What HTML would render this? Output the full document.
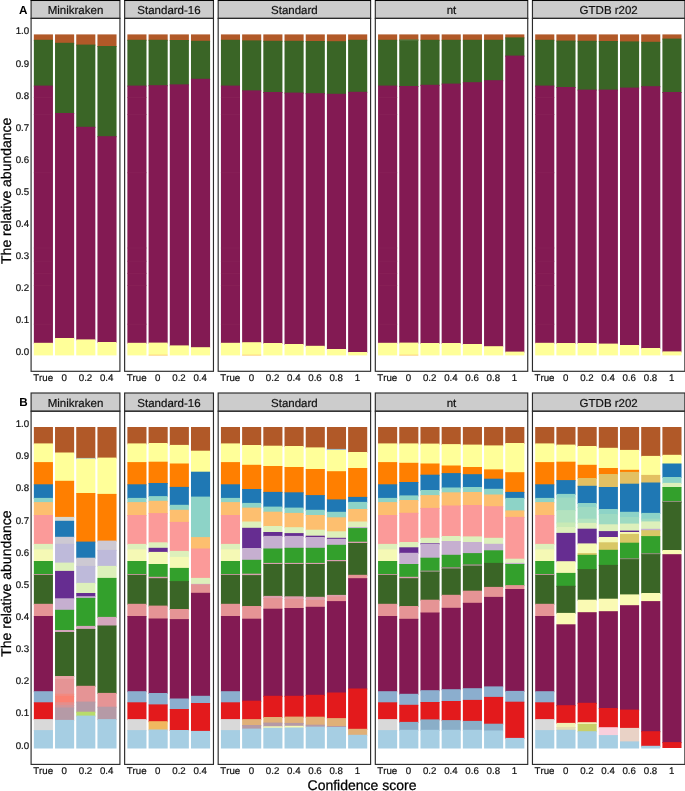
<!DOCTYPE html>
<html><head><meta charset="utf-8"><title>Relative abundance</title>
<style>
html,body{margin:0;padding:0;background:#fff}
svg{display:block}
text{font-family:"Liberation Sans",Arial,sans-serif;fill:#111;stroke:#111;stroke-width:0.2px;text-rendering:geometricPrecision;font-kerning:none}
.t{font-size:9.7px}
.s{font-size:11.5px;text-anchor:middle}
.x{text-anchor:middle}
.y{text-anchor:end}
.ti{font-size:14px;text-anchor:middle;fill:#000;stroke:#000;stroke-width:0.25px}
.l{font-size:11.7px;font-weight:bold;fill:#000;stroke:none}
</style></head>
<body>
<svg width="685" height="791" viewBox="0 0 685 791">
<rect width="685" height="791" fill="#fff"/>
<rect x="31.09" y="0.45" width="88.83" height="17.9" fill="#CCCCCC" stroke="#2b2b2b" stroke-width="1.15"/>
<text class="s" x="75.5" y="13.9">Minikraken</text>
<g>
<rect x="33.84" y="34.4" width="19.1" height="6.4" fill="#B15928"/>
<rect x="33.84" y="39.8" width="19.1" height="46.8" fill="#3A6526"/>
<rect x="33.84" y="85.6" width="19.1" height="258.2" fill="#831A53"/>
<rect x="33.84" y="342.8" width="19.1" height="12.6" fill="#FFFF99"/>
<rect x="33.84" y="97.31" width="19.1" height="0.7" fill="#892358"/>
<rect x="33.84" y="114.00" width="19.1" height="0.7" fill="#892358"/>
<rect x="33.84" y="172.42" width="19.1" height="0.7" fill="#892358"/>
<rect x="33.84" y="247.65" width="19.1" height="0.7" fill="#892358"/>
<rect x="33.84" y="260.85" width="19.1" height="0.7" fill="#892358"/>
<rect x="33.84" y="272.95" width="19.1" height="0.7" fill="#892358"/>
<rect x="33.84" y="285.15" width="19.1" height="0.7" fill="#892358"/>
<rect x="33.84" y="323.80" width="19.1" height="0.7" fill="#892358"/>
</g>
<g>
<rect x="55.04" y="34.4" width="19.1" height="9.4" fill="#B15928"/>
<rect x="55.04" y="42.8" width="19.1" height="71.2" fill="#3A6526"/>
<rect x="55.04" y="113.0" width="19.1" height="226.0" fill="#831A53"/>
<rect x="55.04" y="338.0" width="19.1" height="17.4" fill="#FFFF99"/>
</g>
<g>
<rect x="76.24" y="34.4" width="19.1" height="11.2" fill="#B15928"/>
<rect x="76.24" y="44.6" width="19.1" height="83.2" fill="#3A6526"/>
<rect x="76.24" y="126.8" width="19.1" height="213.6" fill="#831A53"/>
<rect x="76.24" y="339.4" width="19.1" height="16.0" fill="#FFFF99"/>
</g>
<g>
<rect x="97.44" y="34.4" width="19.1" height="12.6" fill="#B15928"/>
<rect x="97.44" y="46.0" width="19.1" height="91.2" fill="#3A6526"/>
<rect x="97.44" y="136.2" width="19.1" height="206.8" fill="#831A53"/>
<rect x="97.44" y="342.0" width="19.1" height="13.4" fill="#FFFF99"/>
</g>
<rect x="31.09" y="18.4" width="88.83" height="352.9" fill="none" stroke="#2b2b2b" stroke-width="1.15"/>
<text class="t x" x="43.1" y="380.9">True</text>
<text class="t x" x="64.3" y="380.9">0</text>
<text class="t x" x="85.5" y="380.9">0.2</text>
<text class="t x" x="106.7" y="380.9">0.4</text>
<rect x="124.63" y="0.45" width="88.83" height="17.9" fill="#CCCCCC" stroke="#2b2b2b" stroke-width="1.15"/>
<text class="s" x="169.0" y="13.9">Standard-16</text>
<g>
<rect x="127.38" y="34.4" width="19.1" height="6.4" fill="#B15928"/>
<rect x="127.38" y="39.8" width="19.1" height="46.8" fill="#3A6526"/>
<rect x="127.38" y="85.6" width="19.1" height="258.2" fill="#831A53"/>
<rect x="127.38" y="342.8" width="19.1" height="12.6" fill="#FFFF99"/>
<rect x="127.38" y="97.31" width="19.1" height="0.7" fill="#892358"/>
<rect x="127.38" y="114.00" width="19.1" height="0.7" fill="#892358"/>
<rect x="127.38" y="172.42" width="19.1" height="0.7" fill="#892358"/>
<rect x="127.38" y="247.65" width="19.1" height="0.7" fill="#892358"/>
<rect x="127.38" y="260.85" width="19.1" height="0.7" fill="#892358"/>
<rect x="127.38" y="272.95" width="19.1" height="0.7" fill="#892358"/>
<rect x="127.38" y="285.15" width="19.1" height="0.7" fill="#892358"/>
<rect x="127.38" y="323.80" width="19.1" height="0.7" fill="#892358"/>
</g>
<g>
<rect x="148.58" y="34.4" width="19.1" height="6.4" fill="#B15928"/>
<rect x="148.58" y="39.8" width="19.1" height="46.4" fill="#3A6526"/>
<rect x="148.58" y="85.2" width="19.1" height="258.4" fill="#831A53"/>
<rect x="148.58" y="342.6" width="19.1" height="12.8" fill="#FFFF99"/>
<rect x="148.58" y="354.80" width="19.1" height="0.6" fill="#FDB462"/>
</g>
<g>
<rect x="169.78" y="34.4" width="19.1" height="6.6" fill="#B15928"/>
<rect x="169.78" y="40.0" width="19.1" height="45.4" fill="#3A6526"/>
<rect x="169.78" y="84.4" width="19.1" height="262.0" fill="#831A53"/>
<rect x="169.78" y="345.4" width="19.1" height="10.0" fill="#FFFF99"/>
</g>
<g>
<rect x="190.98" y="34.4" width="19.1" height="7.4" fill="#B15928"/>
<rect x="190.98" y="40.8" width="19.1" height="39.0" fill="#3A6526"/>
<rect x="190.98" y="78.8" width="19.1" height="269.4" fill="#831A53"/>
<rect x="190.98" y="347.2" width="19.1" height="8.2" fill="#FFFF99"/>
</g>
<rect x="124.63" y="18.4" width="88.83" height="352.9" fill="none" stroke="#2b2b2b" stroke-width="1.15"/>
<text class="t x" x="136.6" y="380.9">True</text>
<text class="t x" x="157.8" y="380.9">0</text>
<text class="t x" x="179.0" y="380.9">0.2</text>
<text class="t x" x="200.2" y="380.9">0.4</text>
<rect x="218.17" y="0.45" width="152.43" height="17.9" fill="#CCCCCC" stroke="#2b2b2b" stroke-width="1.15"/>
<text class="s" x="294.4" y="13.9">Standard</text>
<g>
<rect x="220.92" y="34.4" width="19.1" height="6.4" fill="#B15928"/>
<rect x="220.92" y="39.8" width="19.1" height="46.8" fill="#3A6526"/>
<rect x="220.92" y="85.6" width="19.1" height="258.2" fill="#831A53"/>
<rect x="220.92" y="342.8" width="19.1" height="12.6" fill="#FFFF99"/>
<rect x="220.92" y="97.31" width="19.1" height="0.7" fill="#892358"/>
<rect x="220.92" y="114.00" width="19.1" height="0.7" fill="#892358"/>
<rect x="220.92" y="172.42" width="19.1" height="0.7" fill="#892358"/>
<rect x="220.92" y="247.65" width="19.1" height="0.7" fill="#892358"/>
<rect x="220.92" y="260.85" width="19.1" height="0.7" fill="#892358"/>
<rect x="220.92" y="272.95" width="19.1" height="0.7" fill="#892358"/>
<rect x="220.92" y="285.15" width="19.1" height="0.7" fill="#892358"/>
<rect x="220.92" y="323.80" width="19.1" height="0.7" fill="#892358"/>
</g>
<g>
<rect x="242.12" y="34.4" width="19.1" height="7.0" fill="#B15928"/>
<rect x="242.12" y="40.4" width="19.1" height="51.0" fill="#3A6526"/>
<rect x="242.12" y="90.4" width="19.1" height="252.8" fill="#831A53"/>
<rect x="242.12" y="342.2" width="19.1" height="13.2" fill="#FFFF99"/>
<rect x="242.12" y="354.80" width="19.1" height="0.6" fill="#FDB462"/>
</g>
<g>
<rect x="263.32" y="34.4" width="19.1" height="7.4" fill="#B15928"/>
<rect x="263.32" y="40.8" width="19.1" height="52.2" fill="#3A6526"/>
<rect x="263.32" y="92.0" width="19.1" height="252.0" fill="#831A53"/>
<rect x="263.32" y="343.0" width="19.1" height="12.4" fill="#FFFF99"/>
</g>
<g>
<rect x="284.52" y="34.4" width="19.1" height="7.4" fill="#B15928"/>
<rect x="284.52" y="40.8" width="19.1" height="52.8" fill="#3A6526"/>
<rect x="284.52" y="92.6" width="19.1" height="252.4" fill="#831A53"/>
<rect x="284.52" y="344.0" width="19.1" height="11.4" fill="#FFFF99"/>
</g>
<g>
<rect x="305.72" y="34.4" width="19.1" height="7.6" fill="#B15928"/>
<rect x="305.72" y="41.0" width="19.1" height="53.2" fill="#3A6526"/>
<rect x="305.72" y="93.2" width="19.1" height="253.6" fill="#831A53"/>
<rect x="305.72" y="345.8" width="19.1" height="9.6" fill="#FFFF99"/>
</g>
<g>
<rect x="326.92" y="34.4" width="19.1" height="7.8" fill="#B15928"/>
<rect x="326.92" y="41.2" width="19.1" height="53.6" fill="#3A6526"/>
<rect x="326.92" y="93.8" width="19.1" height="256.2" fill="#831A53"/>
<rect x="326.92" y="349.0" width="19.1" height="6.4" fill="#FFFF99"/>
</g>
<g>
<rect x="348.12" y="34.4" width="19.1" height="6.4" fill="#B15928"/>
<rect x="348.12" y="39.8" width="19.1" height="53.0" fill="#3A6526"/>
<rect x="348.12" y="91.8" width="19.1" height="261.2" fill="#831A53"/>
<rect x="348.12" y="352.0" width="19.1" height="3.4" fill="#FFFF99"/>
</g>
<rect x="218.17" y="18.4" width="152.43" height="352.9" fill="none" stroke="#2b2b2b" stroke-width="1.15"/>
<text class="t x" x="230.2" y="380.9">True</text>
<text class="t x" x="251.4" y="380.9">0</text>
<text class="t x" x="272.6" y="380.9">0.2</text>
<text class="t x" x="293.8" y="380.9">0.4</text>
<text class="t x" x="315.0" y="380.9">0.6</text>
<text class="t x" x="336.2" y="380.9">0.8</text>
<text class="t x" x="357.4" y="380.9">1</text>
<rect x="375.31" y="0.45" width="152.43" height="17.9" fill="#CCCCCC" stroke="#2b2b2b" stroke-width="1.15"/>
<text class="s" x="451.5" y="13.9">nt</text>
<g>
<rect x="378.06" y="34.4" width="19.1" height="6.4" fill="#B15928"/>
<rect x="378.06" y="39.8" width="19.1" height="46.8" fill="#3A6526"/>
<rect x="378.06" y="85.6" width="19.1" height="258.2" fill="#831A53"/>
<rect x="378.06" y="342.8" width="19.1" height="12.6" fill="#FFFF99"/>
<rect x="378.06" y="97.31" width="19.1" height="0.7" fill="#892358"/>
<rect x="378.06" y="114.00" width="19.1" height="0.7" fill="#892358"/>
<rect x="378.06" y="172.42" width="19.1" height="0.7" fill="#892358"/>
<rect x="378.06" y="247.65" width="19.1" height="0.7" fill="#892358"/>
<rect x="378.06" y="260.85" width="19.1" height="0.7" fill="#892358"/>
<rect x="378.06" y="272.95" width="19.1" height="0.7" fill="#892358"/>
<rect x="378.06" y="285.15" width="19.1" height="0.7" fill="#892358"/>
<rect x="378.06" y="323.80" width="19.1" height="0.7" fill="#892358"/>
</g>
<g>
<rect x="399.26" y="34.4" width="19.1" height="6.2" fill="#B15928"/>
<rect x="399.26" y="39.6" width="19.1" height="47.4" fill="#3A6526"/>
<rect x="399.26" y="86.0" width="19.1" height="257.6" fill="#831A53"/>
<rect x="399.26" y="342.6" width="19.1" height="12.8" fill="#FFFF99"/>
<rect x="399.26" y="39.7" width="19.1" height="0.6" fill="#6F8F5C"/>
<rect x="399.26" y="354.80" width="19.1" height="0.6" fill="#FDB462"/>
</g>
<g>
<rect x="420.46" y="34.4" width="19.1" height="6.4" fill="#B15928"/>
<rect x="420.46" y="39.8" width="19.1" height="46.0" fill="#3A6526"/>
<rect x="420.46" y="84.8" width="19.1" height="259.2" fill="#831A53"/>
<rect x="420.46" y="343.0" width="19.1" height="12.4" fill="#FFFF99"/>
</g>
<g>
<rect x="441.66" y="34.4" width="19.1" height="6.4" fill="#B15928"/>
<rect x="441.66" y="39.8" width="19.1" height="44.8" fill="#3A6526"/>
<rect x="441.66" y="83.6" width="19.1" height="260.4" fill="#831A53"/>
<rect x="441.66" y="343.0" width="19.1" height="12.4" fill="#FFFF99"/>
</g>
<g>
<rect x="462.86" y="34.4" width="19.1" height="6.4" fill="#B15928"/>
<rect x="462.86" y="39.8" width="19.1" height="43.4" fill="#3A6526"/>
<rect x="462.86" y="82.2" width="19.1" height="262.8" fill="#831A53"/>
<rect x="462.86" y="344.0" width="19.1" height="11.4" fill="#FFFF99"/>
</g>
<g>
<rect x="484.06" y="34.4" width="19.1" height="6.4" fill="#B15928"/>
<rect x="484.06" y="39.8" width="19.1" height="41.4" fill="#3A6526"/>
<rect x="484.06" y="80.2" width="19.1" height="267.0" fill="#831A53"/>
<rect x="484.06" y="346.2" width="19.1" height="9.2" fill="#FFFF99"/>
</g>
<g>
<rect x="505.26" y="34.4" width="19.1" height="4.0" fill="#B15928"/>
<rect x="505.26" y="37.4" width="19.1" height="19.2" fill="#3A6526"/>
<rect x="505.26" y="55.6" width="19.1" height="297.0" fill="#831A53"/>
<rect x="505.26" y="351.6" width="19.1" height="3.8" fill="#FFFF99"/>
</g>
<rect x="375.31" y="18.4" width="152.43" height="352.9" fill="none" stroke="#2b2b2b" stroke-width="1.15"/>
<text class="t x" x="387.3" y="380.9">True</text>
<text class="t x" x="408.5" y="380.9">0</text>
<text class="t x" x="429.7" y="380.9">0.2</text>
<text class="t x" x="450.9" y="380.9">0.4</text>
<text class="t x" x="472.1" y="380.9">0.6</text>
<text class="t x" x="493.3" y="380.9">0.8</text>
<text class="t x" x="514.5" y="380.9">1</text>
<rect x="532.45" y="0.45" width="152.43" height="17.9" fill="#CCCCCC" stroke="#2b2b2b" stroke-width="1.15"/>
<text class="s" x="608.7" y="13.9">GTDB r202</text>
<g>
<rect x="535.20" y="34.4" width="19.1" height="6.4" fill="#B15928"/>
<rect x="535.20" y="39.8" width="19.1" height="46.8" fill="#3A6526"/>
<rect x="535.20" y="85.6" width="19.1" height="258.2" fill="#831A53"/>
<rect x="535.20" y="342.8" width="19.1" height="12.6" fill="#FFFF99"/>
<rect x="535.20" y="97.31" width="19.1" height="0.7" fill="#892358"/>
<rect x="535.20" y="114.00" width="19.1" height="0.7" fill="#892358"/>
<rect x="535.20" y="172.42" width="19.1" height="0.7" fill="#892358"/>
<rect x="535.20" y="247.65" width="19.1" height="0.7" fill="#892358"/>
<rect x="535.20" y="260.85" width="19.1" height="0.7" fill="#892358"/>
<rect x="535.20" y="272.95" width="19.1" height="0.7" fill="#892358"/>
<rect x="535.20" y="285.15" width="19.1" height="0.7" fill="#892358"/>
<rect x="535.20" y="323.80" width="19.1" height="0.7" fill="#892358"/>
</g>
<g>
<rect x="556.40" y="34.4" width="19.1" height="7.2" fill="#B15928"/>
<rect x="556.40" y="40.6" width="19.1" height="47.4" fill="#3A6526"/>
<rect x="556.40" y="87.0" width="19.1" height="257.0" fill="#831A53"/>
<rect x="556.40" y="343.0" width="19.1" height="12.4" fill="#FFFF99"/>
</g>
<g>
<rect x="577.60" y="34.4" width="19.1" height="7.4" fill="#B15928"/>
<rect x="577.60" y="40.8" width="19.1" height="49.8" fill="#3A6526"/>
<rect x="577.60" y="89.6" width="19.1" height="254.4" fill="#831A53"/>
<rect x="577.60" y="343.0" width="19.1" height="12.4" fill="#FFFF99"/>
</g>
<g>
<rect x="598.80" y="34.4" width="19.1" height="7.6" fill="#B15928"/>
<rect x="598.80" y="41.0" width="19.1" height="49.6" fill="#3A6526"/>
<rect x="598.80" y="89.6" width="19.1" height="255.0" fill="#831A53"/>
<rect x="598.80" y="343.6" width="19.1" height="11.8" fill="#FFFF99"/>
</g>
<g>
<rect x="620.00" y="34.4" width="19.1" height="8.0" fill="#B15928"/>
<rect x="620.00" y="41.4" width="19.1" height="47.2" fill="#3A6526"/>
<rect x="620.00" y="87.6" width="19.1" height="258.4" fill="#831A53"/>
<rect x="620.00" y="345.0" width="19.1" height="10.4" fill="#FFFF99"/>
</g>
<g>
<rect x="641.20" y="34.4" width="19.1" height="8.4" fill="#B15928"/>
<rect x="641.20" y="41.8" width="19.1" height="45.4" fill="#3A6526"/>
<rect x="641.20" y="86.2" width="19.1" height="262.8" fill="#831A53"/>
<rect x="641.20" y="348.0" width="19.1" height="7.4" fill="#FFFF99"/>
</g>
<g>
<rect x="662.40" y="34.4" width="19.1" height="5.2" fill="#B15928"/>
<rect x="662.40" y="38.6" width="19.1" height="54.4" fill="#3A6526"/>
<rect x="662.40" y="92.0" width="19.1" height="260.4" fill="#831A53"/>
<rect x="662.40" y="351.4" width="19.1" height="4.0" fill="#FFFF99"/>
</g>
<rect x="532.45" y="18.4" width="152.43" height="352.9" fill="none" stroke="#2b2b2b" stroke-width="1.15"/>
<text class="t x" x="544.5" y="380.9">True</text>
<text class="t x" x="565.7" y="380.9">0</text>
<text class="t x" x="586.9" y="380.9">0.2</text>
<text class="t x" x="608.1" y="380.9">0.4</text>
<text class="t x" x="629.2" y="380.9">0.6</text>
<text class="t x" x="650.5" y="380.9">0.8</text>
<text class="t x" x="671.7" y="380.9">1</text>
<text class="t y" x="29.2" y="355.4">0.0</text>
<text class="t y" x="29.2" y="323.3">0.1</text>
<text class="t y" x="29.2" y="291.2">0.2</text>
<text class="t y" x="29.2" y="259.1">0.3</text>
<text class="t y" x="29.2" y="227.0">0.4</text>
<text class="t y" x="29.2" y="194.9">0.5</text>
<text class="t y" x="29.2" y="162.8">0.6</text>
<text class="t y" x="29.2" y="130.7">0.7</text>
<text class="t y" x="29.2" y="98.6">0.8</text>
<text class="t y" x="29.2" y="66.5">0.9</text>
<text class="t y" x="29.2" y="34.4">1.0</text>
<rect x="31.09" y="393.0" width="88.83" height="18.2" fill="#CCCCCC" stroke="#2b2b2b" stroke-width="1.15"/>
<text class="s" x="75.5" y="406.5">Minikraken</text>
<g>
<rect x="33.84" y="427.0" width="19.1" height="17.4" fill="#B15928"/>
<rect x="33.84" y="443.4" width="19.1" height="19.7" fill="#FFFF99"/>
<rect x="33.84" y="462.1" width="19.1" height="23.2" fill="#FF7F00"/>
<rect x="33.84" y="484.3" width="19.1" height="14.6" fill="#1F78B4"/>
<rect x="33.84" y="497.9" width="19.1" height="5.2" fill="#8DD3C7"/>
<rect x="33.84" y="502.1" width="19.1" height="13.9" fill="#FDBF6F"/>
<rect x="33.84" y="515.0" width="19.1" height="29.9" fill="#FB9A99"/>
<rect x="33.84" y="543.9" width="19.1" height="6.5" fill="#DDF0BB"/>
<rect x="33.84" y="549.4" width="19.1" height="12.6" fill="#F5F9B5"/>
<rect x="33.84" y="561.0" width="19.1" height="14.0" fill="#33A02C"/>
<rect x="33.84" y="574.0" width="19.1" height="1.8" fill="#D9A0B0"/>
<rect x="33.84" y="574.8" width="19.1" height="30.0" fill="#3A6526"/>
<rect x="33.84" y="603.8" width="19.1" height="13.2" fill="#E59495"/>
<rect x="33.84" y="616.0" width="19.1" height="76.2" fill="#831A53"/>
<rect x="33.84" y="691.2" width="19.1" height="12.1" fill="#8BAECE"/>
<rect x="33.84" y="702.3" width="19.1" height="17.8" fill="#E31A1C"/>
<rect x="33.84" y="719.1" width="19.1" height="12.0" fill="#D9D9D9"/>
<rect x="33.84" y="730.1" width="19.1" height="18.4" fill="#A6CEE3"/>
</g>
<g>
<rect x="55.04" y="427.0" width="19.1" height="26.5" fill="#B15928"/>
<rect x="55.04" y="452.5" width="19.1" height="29.3" fill="#FFFF99"/>
<rect x="55.04" y="480.8" width="19.1" height="37.1" fill="#FF7F00"/>
<rect x="55.04" y="516.9" width="19.1" height="4.9" fill="#D6D6CE"/>
<rect x="55.04" y="520.8" width="19.1" height="17.0" fill="#1F78B4"/>
<rect x="55.04" y="536.8" width="19.1" height="8.0" fill="#CDC9D3"/>
<rect x="55.04" y="543.8" width="19.1" height="19.8" fill="#BEBADA"/>
<rect x="55.04" y="562.6" width="19.1" height="9.3" fill="#DDF0BB"/>
<rect x="55.04" y="570.9" width="19.1" height="28.4" fill="#662D91"/>
<rect x="55.04" y="598.3" width="19.1" height="12.5" fill="#C6AFD0"/>
<rect x="55.04" y="609.8" width="19.1" height="21.2" fill="#33A02C"/>
<rect x="55.04" y="630.0" width="19.1" height="3.0" fill="#D4A6BC"/>
<rect x="55.04" y="632.0" width="19.1" height="45.0" fill="#3A6526"/>
<rect x="55.04" y="676.0" width="19.1" height="3.9" fill="#E9A3A6"/>
<rect x="55.04" y="678.9" width="19.1" height="15.9" fill="#E59495"/>
<rect x="55.04" y="693.7" width="19.1" height="3.1" fill="#F28A80"/>
<rect x="55.04" y="695.9" width="19.1" height="7.4" fill="#FA8072"/>
<rect x="55.04" y="702.2" width="19.1" height="3.8" fill="#E48E8C"/>
<rect x="55.04" y="705.0" width="19.1" height="3.5" fill="#D29599"/>
<rect x="55.04" y="707.5" width="19.1" height="13.4" fill="#B59AA6"/>
<rect x="55.04" y="719.9" width="19.1" height="28.6" fill="#A6CEE3"/>
</g>
<g>
<rect x="76.24" y="427.0" width="19.1" height="31.9" fill="#B15928"/>
<rect x="76.24" y="457.9" width="19.1" height="1.6" fill="#8BAECE"/>
<rect x="76.24" y="458.5" width="19.1" height="35.5" fill="#FFFF99"/>
<rect x="76.24" y="493.0" width="19.1" height="49.6" fill="#FF7F00"/>
<rect x="76.24" y="541.6" width="19.1" height="17.1" fill="#1F78B4"/>
<rect x="76.24" y="557.7" width="19.1" height="9.2" fill="#CDC9D3"/>
<rect x="76.24" y="565.9" width="19.1" height="18.0" fill="#BEBADA"/>
<rect x="76.24" y="582.9" width="19.1" height="11.1" fill="#DDF0BB"/>
<rect x="76.24" y="593.0" width="19.1" height="4.2" fill="#662D91"/>
<rect x="76.24" y="596.2" width="19.1" height="2.7" fill="#C6AFD0"/>
<rect x="76.24" y="597.9" width="19.1" height="29.0" fill="#33A02C"/>
<rect x="76.24" y="625.9" width="19.1" height="4.0" fill="#D4A6BC"/>
<rect x="76.24" y="628.9" width="19.1" height="57.9" fill="#3A6526"/>
<rect x="76.24" y="685.8" width="19.1" height="16.8" fill="#E59495"/>
<rect x="76.24" y="701.6" width="19.1" height="11.1" fill="#B59AA6"/>
<rect x="76.24" y="711.7" width="19.1" height="4.9" fill="#B8DB6B"/>
<rect x="76.24" y="715.6" width="19.1" height="32.9" fill="#A6CEE3"/>
</g>
<g>
<rect x="97.44" y="427.0" width="19.1" height="31.6" fill="#B15928"/>
<rect x="97.44" y="457.6" width="19.1" height="37.3" fill="#FFFF99"/>
<rect x="97.44" y="493.9" width="19.1" height="47.7" fill="#FF7F00"/>
<rect x="97.44" y="540.6" width="19.1" height="10.3" fill="#CDC9D3"/>
<rect x="97.44" y="549.9" width="19.1" height="17.0" fill="#BEBADA"/>
<rect x="97.44" y="565.9" width="19.1" height="13.0" fill="#DDF0BB"/>
<rect x="97.44" y="577.9" width="19.1" height="40.0" fill="#33A02C"/>
<rect x="97.44" y="616.9" width="19.1" height="9.6" fill="#D4A6BC"/>
<rect x="97.44" y="625.5" width="19.1" height="68.4" fill="#3A6526"/>
<rect x="97.44" y="692.9" width="19.1" height="14.8" fill="#E59495"/>
<rect x="97.44" y="706.7" width="19.1" height="13.4" fill="#B59AA6"/>
<rect x="97.44" y="719.1" width="19.1" height="29.4" fill="#A6CEE3"/>
</g>
<rect x="31.09" y="411.2" width="88.83" height="353.2" fill="none" stroke="#2b2b2b" stroke-width="1.15"/>
<text class="t x" x="43.1" y="774.0">True</text>
<text class="t x" x="64.3" y="774.0">0</text>
<text class="t x" x="85.5" y="774.0">0.2</text>
<text class="t x" x="106.7" y="774.0">0.4</text>
<rect x="124.63" y="393.0" width="88.83" height="18.2" fill="#CCCCCC" stroke="#2b2b2b" stroke-width="1.15"/>
<text class="s" x="169.0" y="406.5">Standard-16</text>
<g>
<rect x="127.38" y="427.0" width="19.1" height="17.4" fill="#B15928"/>
<rect x="127.38" y="443.4" width="19.1" height="19.7" fill="#FFFF99"/>
<rect x="127.38" y="462.1" width="19.1" height="23.2" fill="#FF7F00"/>
<rect x="127.38" y="484.3" width="19.1" height="14.6" fill="#1F78B4"/>
<rect x="127.38" y="497.9" width="19.1" height="5.2" fill="#8DD3C7"/>
<rect x="127.38" y="502.1" width="19.1" height="13.9" fill="#FDBF6F"/>
<rect x="127.38" y="515.0" width="19.1" height="29.9" fill="#FB9A99"/>
<rect x="127.38" y="543.9" width="19.1" height="6.5" fill="#DDF0BB"/>
<rect x="127.38" y="549.4" width="19.1" height="12.6" fill="#F5F9B5"/>
<rect x="127.38" y="561.0" width="19.1" height="14.0" fill="#33A02C"/>
<rect x="127.38" y="574.0" width="19.1" height="1.8" fill="#D9A0B0"/>
<rect x="127.38" y="574.8" width="19.1" height="30.0" fill="#3A6526"/>
<rect x="127.38" y="603.8" width="19.1" height="13.2" fill="#E59495"/>
<rect x="127.38" y="616.0" width="19.1" height="76.2" fill="#831A53"/>
<rect x="127.38" y="691.2" width="19.1" height="12.1" fill="#8BAECE"/>
<rect x="127.38" y="702.3" width="19.1" height="17.8" fill="#E31A1C"/>
<rect x="127.38" y="719.1" width="19.1" height="12.0" fill="#D9D9D9"/>
<rect x="127.38" y="730.1" width="19.1" height="18.4" fill="#A6CEE3"/>
</g>
<g>
<rect x="148.58" y="427.0" width="19.1" height="17.0" fill="#B15928"/>
<rect x="148.58" y="443.0" width="19.1" height="19.7" fill="#FFFF99"/>
<rect x="148.58" y="461.7" width="19.1" height="22.3" fill="#FF7F00"/>
<rect x="148.58" y="483.0" width="19.1" height="14.1" fill="#1F78B4"/>
<rect x="148.58" y="496.1" width="19.1" height="5.7" fill="#8DD3C7"/>
<rect x="148.58" y="500.8" width="19.1" height="13.3" fill="#FDBF6F"/>
<rect x="148.58" y="513.1" width="19.1" height="30.2" fill="#FB9A99"/>
<rect x="148.58" y="542.3" width="19.1" height="6.5" fill="#DDF0BB"/>
<rect x="148.58" y="547.8" width="19.1" height="5.1" fill="#662D91"/>
<rect x="148.58" y="551.9" width="19.1" height="13.1" fill="#F5F9B5"/>
<rect x="148.58" y="564.0" width="19.1" height="13.8" fill="#33A02C"/>
<rect x="148.58" y="576.8" width="19.1" height="2.4" fill="#D9A0B0"/>
<rect x="148.58" y="578.2" width="19.1" height="28.4" fill="#3A6526"/>
<rect x="148.58" y="605.6" width="19.1" height="13.9" fill="#E59495"/>
<rect x="148.58" y="618.5" width="19.1" height="75.5" fill="#831A53"/>
<rect x="148.58" y="693.0" width="19.1" height="12.4" fill="#8BAECE"/>
<rect x="148.58" y="704.4" width="19.1" height="17.8" fill="#E31A1C"/>
<rect x="148.58" y="721.2" width="19.1" height="9.3" fill="#F0B860"/>
<rect x="148.58" y="729.5" width="19.1" height="19.0" fill="#A6CEE3"/>
</g>
<g>
<rect x="169.78" y="427.0" width="19.1" height="18.9" fill="#B15928"/>
<rect x="169.78" y="444.9" width="19.1" height="19.6" fill="#FFFF99"/>
<rect x="169.78" y="463.5" width="19.1" height="24.4" fill="#FF7F00"/>
<rect x="169.78" y="486.9" width="19.1" height="18.9" fill="#1F78B4"/>
<rect x="169.78" y="504.8" width="19.1" height="6.0" fill="#8DD3C7"/>
<rect x="169.78" y="509.8" width="19.1" height="13.1" fill="#FDBF6F"/>
<rect x="169.78" y="521.9" width="19.1" height="30.0" fill="#FB9A99"/>
<rect x="169.78" y="550.9" width="19.1" height="7.0" fill="#DDF0BB"/>
<rect x="169.78" y="556.9" width="19.1" height="12.0" fill="#F5F9B5"/>
<rect x="169.78" y="567.9" width="19.1" height="14.2" fill="#33A02C"/>
<rect x="169.78" y="581.1" width="19.1" height="28.9" fill="#3A6526"/>
<rect x="169.78" y="609.0" width="19.1" height="11.1" fill="#E59495"/>
<rect x="169.78" y="619.1" width="19.1" height="80.4" fill="#831A53"/>
<rect x="169.78" y="698.5" width="19.1" height="11.5" fill="#8BAECE"/>
<rect x="169.78" y="709.0" width="19.1" height="22.0" fill="#E31A1C"/>
<rect x="169.78" y="730.0" width="19.1" height="18.5" fill="#A6CEE3"/>
</g>
<g>
<rect x="190.98" y="427.0" width="19.1" height="24.7" fill="#B15928"/>
<rect x="190.98" y="450.7" width="19.1" height="22.0" fill="#FFFF99"/>
<rect x="190.98" y="471.7" width="19.1" height="25.9" fill="#1F78B4"/>
<rect x="190.98" y="496.6" width="19.1" height="41.5" fill="#8DD3C7"/>
<rect x="190.98" y="537.1" width="19.1" height="12.4" fill="#FDBF6F"/>
<rect x="190.98" y="548.5" width="19.1" height="30.4" fill="#FB9A99"/>
<rect x="190.98" y="577.9" width="19.1" height="7.0" fill="#DDF0BB"/>
<rect x="190.98" y="583.9" width="19.1" height="1.8" fill="#D9A0B0"/>
<rect x="190.98" y="584.7" width="19.1" height="9.1" fill="#E59495"/>
<rect x="190.98" y="592.8" width="19.1" height="104.0" fill="#831A53"/>
<rect x="190.98" y="695.8" width="19.1" height="8.2" fill="#8BAECE"/>
<rect x="190.98" y="703.0" width="19.1" height="28.9" fill="#E31A1C"/>
<rect x="190.98" y="730.9" width="19.1" height="17.6" fill="#A6CEE3"/>
</g>
<rect x="124.63" y="411.2" width="88.83" height="353.2" fill="none" stroke="#2b2b2b" stroke-width="1.15"/>
<text class="t x" x="136.6" y="774.0">True</text>
<text class="t x" x="157.8" y="774.0">0</text>
<text class="t x" x="179.0" y="774.0">0.2</text>
<text class="t x" x="200.2" y="774.0">0.4</text>
<rect x="218.17" y="393.0" width="152.43" height="18.2" fill="#CCCCCC" stroke="#2b2b2b" stroke-width="1.15"/>
<text class="s" x="294.4" y="406.5">Standard</text>
<g>
<rect x="220.92" y="427.0" width="19.1" height="17.4" fill="#B15928"/>
<rect x="220.92" y="443.4" width="19.1" height="19.7" fill="#FFFF99"/>
<rect x="220.92" y="462.1" width="19.1" height="23.2" fill="#FF7F00"/>
<rect x="220.92" y="484.3" width="19.1" height="14.6" fill="#1F78B4"/>
<rect x="220.92" y="497.9" width="19.1" height="5.2" fill="#8DD3C7"/>
<rect x="220.92" y="502.1" width="19.1" height="13.9" fill="#FDBF6F"/>
<rect x="220.92" y="515.0" width="19.1" height="29.9" fill="#FB9A99"/>
<rect x="220.92" y="543.9" width="19.1" height="6.5" fill="#DDF0BB"/>
<rect x="220.92" y="549.4" width="19.1" height="12.6" fill="#F5F9B5"/>
<rect x="220.92" y="561.0" width="19.1" height="14.0" fill="#33A02C"/>
<rect x="220.92" y="574.0" width="19.1" height="1.8" fill="#D9A0B0"/>
<rect x="220.92" y="574.8" width="19.1" height="30.0" fill="#3A6526"/>
<rect x="220.92" y="603.8" width="19.1" height="13.2" fill="#E59495"/>
<rect x="220.92" y="616.0" width="19.1" height="76.2" fill="#831A53"/>
<rect x="220.92" y="691.2" width="19.1" height="12.1" fill="#8BAECE"/>
<rect x="220.92" y="702.3" width="19.1" height="17.8" fill="#E31A1C"/>
<rect x="220.92" y="719.1" width="19.1" height="12.0" fill="#D9D9D9"/>
<rect x="220.92" y="730.1" width="19.1" height="18.4" fill="#A6CEE3"/>
</g>
<g>
<rect x="242.12" y="427.0" width="19.1" height="19.0" fill="#B15928"/>
<rect x="242.12" y="445.0" width="19.1" height="20.8" fill="#FFFF99"/>
<rect x="242.12" y="464.8" width="19.1" height="25.2" fill="#FF7F00"/>
<rect x="242.12" y="489.0" width="19.1" height="14.9" fill="#1F78B4"/>
<rect x="242.12" y="502.9" width="19.1" height="5.7" fill="#8DD3C7"/>
<rect x="242.12" y="507.6" width="19.1" height="14.9" fill="#FDBF6F"/>
<rect x="242.12" y="521.5" width="19.1" height="7.3" fill="#DDF0BB"/>
<rect x="242.12" y="527.8" width="19.1" height="21.2" fill="#662D91"/>
<rect x="242.12" y="548.0" width="19.1" height="12.8" fill="#C6AFD0"/>
<rect x="242.12" y="559.8" width="19.1" height="14.9" fill="#33A02C"/>
<rect x="242.12" y="573.7" width="19.1" height="2.4" fill="#D9A0B0"/>
<rect x="242.12" y="575.1" width="19.1" height="31.9" fill="#3A6526"/>
<rect x="242.12" y="606.0" width="19.1" height="13.7" fill="#E59495"/>
<rect x="242.12" y="618.7" width="19.1" height="83.0" fill="#831A53"/>
<rect x="242.12" y="700.7" width="19.1" height="19.4" fill="#E31A1C"/>
<rect x="242.12" y="719.1" width="19.1" height="6.9" fill="#E0B078"/>
<rect x="242.12" y="725.0" width="19.1" height="4.6" fill="#B59AA6"/>
<rect x="242.12" y="728.6" width="19.1" height="19.9" fill="#A6CEE3"/>
</g>
<g>
<rect x="263.32" y="427.0" width="19.1" height="19.7" fill="#B15928"/>
<rect x="263.32" y="445.7" width="19.1" height="21.3" fill="#FFFF99"/>
<rect x="263.32" y="466.0" width="19.1" height="26.9" fill="#FF7F00"/>
<rect x="263.32" y="491.9" width="19.1" height="15.7" fill="#1F78B4"/>
<rect x="263.32" y="506.6" width="19.1" height="6.1" fill="#8DD3C7"/>
<rect x="263.32" y="511.7" width="19.1" height="15.3" fill="#FDBF6F"/>
<rect x="263.32" y="526.0" width="19.1" height="7.0" fill="#DDF0BB"/>
<rect x="263.32" y="532.0" width="19.1" height="4.9" fill="#662D91"/>
<rect x="263.32" y="535.9" width="19.1" height="13.6" fill="#C6AFD0"/>
<rect x="263.32" y="548.5" width="19.1" height="15.4" fill="#33A02C"/>
<rect x="263.32" y="562.9" width="19.1" height="2.1" fill="#D9A0B0"/>
<rect x="263.32" y="564.0" width="19.1" height="32.9" fill="#3A6526"/>
<rect x="263.32" y="595.9" width="19.1" height="3.2" fill="#DE9FAB"/>
<rect x="263.32" y="598.1" width="19.1" height="11.6" fill="#E59495"/>
<rect x="263.32" y="608.7" width="19.1" height="88.1" fill="#831A53"/>
<rect x="263.32" y="695.8" width="19.1" height="22.2" fill="#E31A1C"/>
<rect x="263.32" y="717.0" width="19.1" height="6.6" fill="#E0B078"/>
<rect x="263.32" y="722.6" width="19.1" height="4.7" fill="#B59AA6"/>
<rect x="263.32" y="726.3" width="19.1" height="2.4" fill="#F5F9B5"/>
<rect x="263.32" y="727.7" width="19.1" height="20.8" fill="#A6CEE3"/>
</g>
<g>
<rect x="284.52" y="427.0" width="19.1" height="20.0" fill="#B15928"/>
<rect x="284.52" y="446.0" width="19.1" height="22.0" fill="#FFFF99"/>
<rect x="284.52" y="467.0" width="19.1" height="26.3" fill="#FF7F00"/>
<rect x="284.52" y="492.3" width="19.1" height="16.3" fill="#1F78B4"/>
<rect x="284.52" y="507.6" width="19.1" height="6.3" fill="#8DD3C7"/>
<rect x="284.52" y="512.9" width="19.1" height="15.3" fill="#FDBF6F"/>
<rect x="284.52" y="527.2" width="19.1" height="6.9" fill="#DDF0BB"/>
<rect x="284.52" y="533.1" width="19.1" height="3.8" fill="#662D91"/>
<rect x="284.52" y="535.9" width="19.1" height="12.9" fill="#C6AFD0"/>
<rect x="284.52" y="547.8" width="19.1" height="16.1" fill="#33A02C"/>
<rect x="284.52" y="562.9" width="19.1" height="2.1" fill="#D9A0B0"/>
<rect x="284.52" y="564.0" width="19.1" height="33.3" fill="#3A6526"/>
<rect x="284.52" y="596.3" width="19.1" height="3.6" fill="#DE9FAB"/>
<rect x="284.52" y="598.9" width="19.1" height="10.1" fill="#E59495"/>
<rect x="284.52" y="608.0" width="19.1" height="88.8" fill="#831A53"/>
<rect x="284.52" y="695.8" width="19.1" height="21.8" fill="#E31A1C"/>
<rect x="284.52" y="716.6" width="19.1" height="7.3" fill="#E0B078"/>
<rect x="284.52" y="722.9" width="19.1" height="3.9" fill="#B59AA6"/>
<rect x="284.52" y="725.8" width="19.1" height="2.7" fill="#F5F9B5"/>
<rect x="284.52" y="727.5" width="19.1" height="21.0" fill="#A6CEE3"/>
</g>
<g>
<rect x="305.72" y="427.0" width="19.1" height="21.4" fill="#B15928"/>
<rect x="305.72" y="447.4" width="19.1" height="22.6" fill="#FFFF99"/>
<rect x="305.72" y="469.0" width="19.1" height="27.1" fill="#FF7F00"/>
<rect x="305.72" y="495.1" width="19.1" height="15.7" fill="#1F78B4"/>
<rect x="305.72" y="509.8" width="19.1" height="6.2" fill="#8DD3C7"/>
<rect x="305.72" y="515.0" width="19.1" height="15.7" fill="#FDBF6F"/>
<rect x="305.72" y="529.7" width="19.1" height="7.0" fill="#DDF0BB"/>
<rect x="305.72" y="535.7" width="19.1" height="2.3" fill="#662D91"/>
<rect x="305.72" y="537.0" width="19.1" height="11.8" fill="#C6AFD0"/>
<rect x="305.72" y="547.8" width="19.1" height="16.1" fill="#33A02C"/>
<rect x="305.72" y="562.9" width="19.1" height="2.1" fill="#D9A0B0"/>
<rect x="305.72" y="564.0" width="19.1" height="33.8" fill="#3A6526"/>
<rect x="305.72" y="596.8" width="19.1" height="4.1" fill="#DE9FAB"/>
<rect x="305.72" y="599.9" width="19.1" height="7.9" fill="#E59495"/>
<rect x="305.72" y="606.8" width="19.1" height="89.0" fill="#831A53"/>
<rect x="305.72" y="694.8" width="19.1" height="22.9" fill="#E31A1C"/>
<rect x="305.72" y="716.7" width="19.1" height="9.0" fill="#E0B078"/>
<rect x="305.72" y="724.7" width="19.1" height="2.9" fill="#B59AA6"/>
<rect x="305.72" y="726.6" width="19.1" height="21.9" fill="#A6CEE3"/>
</g>
<g>
<rect x="326.92" y="427.0" width="19.1" height="22.9" fill="#B15928"/>
<rect x="326.92" y="448.9" width="19.1" height="1.9" fill="#8BAECE"/>
<rect x="326.92" y="449.8" width="19.1" height="22.4" fill="#FFFF99"/>
<rect x="326.92" y="471.2" width="19.1" height="29.2" fill="#FF7F00"/>
<rect x="326.92" y="499.4" width="19.1" height="13.4" fill="#1F78B4"/>
<rect x="326.92" y="511.8" width="19.1" height="6.5" fill="#8DD3C7"/>
<rect x="326.92" y="517.3" width="19.1" height="15.0" fill="#FDBF6F"/>
<rect x="326.92" y="531.3" width="19.1" height="7.5" fill="#DDF0BB"/>
<rect x="326.92" y="537.8" width="19.1" height="2.0" fill="#662D91"/>
<rect x="326.92" y="538.8" width="19.1" height="7.0" fill="#C6AFD0"/>
<rect x="326.92" y="544.8" width="19.1" height="16.2" fill="#33A02C"/>
<rect x="326.92" y="560.0" width="19.1" height="2.2" fill="#D9A0B0"/>
<rect x="326.92" y="561.2" width="19.1" height="34.7" fill="#3A6526"/>
<rect x="326.92" y="594.9" width="19.1" height="2.7" fill="#DE9FAB"/>
<rect x="326.92" y="596.6" width="19.1" height="5.5" fill="#E59495"/>
<rect x="326.92" y="601.1" width="19.1" height="92.4" fill="#831A53"/>
<rect x="326.92" y="692.5" width="19.1" height="26.6" fill="#E31A1C"/>
<rect x="326.92" y="718.1" width="19.1" height="8.9" fill="#E0B078"/>
<rect x="326.92" y="726.0" width="19.1" height="2.0" fill="#B59AA6"/>
<rect x="326.92" y="727.0" width="19.1" height="21.5" fill="#A6CEE3"/>
</g>
<g>
<rect x="348.12" y="427.0" width="19.1" height="26.0" fill="#B15928"/>
<rect x="348.12" y="452.0" width="19.1" height="17.0" fill="#FFFF99"/>
<rect x="348.12" y="468.0" width="19.1" height="29.9" fill="#FF7F00"/>
<rect x="348.12" y="496.9" width="19.1" height="6.0" fill="#1F78B4"/>
<rect x="348.12" y="501.9" width="19.1" height="8.1" fill="#8DD3C7"/>
<rect x="348.12" y="509.0" width="19.1" height="13.5" fill="#FDBF6F"/>
<rect x="348.12" y="521.5" width="19.1" height="6.5" fill="#DDF0BB"/>
<rect x="348.12" y="527.0" width="19.1" height="2.1" fill="#C6AFD0"/>
<rect x="348.12" y="528.1" width="19.1" height="14.6" fill="#33A02C"/>
<rect x="348.12" y="541.7" width="19.1" height="2.3" fill="#D9A0B0"/>
<rect x="348.12" y="543.0" width="19.1" height="32.8" fill="#3A6526"/>
<rect x="348.12" y="574.8" width="19.1" height="4.4" fill="#E59495"/>
<rect x="348.12" y="578.2" width="19.1" height="111.3" fill="#831A53"/>
<rect x="348.12" y="688.5" width="19.1" height="41.3" fill="#E31A1C"/>
<rect x="348.12" y="728.8" width="19.1" height="7.0" fill="#E0B078"/>
<rect x="348.12" y="734.8" width="19.1" height="13.7" fill="#A6CEE3"/>
</g>
<rect x="218.17" y="411.2" width="152.43" height="353.2" fill="none" stroke="#2b2b2b" stroke-width="1.15"/>
<text class="t x" x="230.2" y="774.0">True</text>
<text class="t x" x="251.4" y="774.0">0</text>
<text class="t x" x="272.6" y="774.0">0.2</text>
<text class="t x" x="293.8" y="774.0">0.4</text>
<text class="t x" x="315.0" y="774.0">0.6</text>
<text class="t x" x="336.2" y="774.0">0.8</text>
<text class="t x" x="357.4" y="774.0">1</text>
<rect x="375.31" y="393.0" width="152.43" height="18.2" fill="#CCCCCC" stroke="#2b2b2b" stroke-width="1.15"/>
<text class="s" x="451.5" y="406.5">nt</text>
<g>
<rect x="378.06" y="427.0" width="19.1" height="17.4" fill="#B15928"/>
<rect x="378.06" y="443.4" width="19.1" height="19.7" fill="#FFFF99"/>
<rect x="378.06" y="462.1" width="19.1" height="23.2" fill="#FF7F00"/>
<rect x="378.06" y="484.3" width="19.1" height="14.6" fill="#1F78B4"/>
<rect x="378.06" y="497.9" width="19.1" height="5.2" fill="#8DD3C7"/>
<rect x="378.06" y="502.1" width="19.1" height="13.9" fill="#FDBF6F"/>
<rect x="378.06" y="515.0" width="19.1" height="29.9" fill="#FB9A99"/>
<rect x="378.06" y="543.9" width="19.1" height="6.5" fill="#DDF0BB"/>
<rect x="378.06" y="549.4" width="19.1" height="12.6" fill="#F5F9B5"/>
<rect x="378.06" y="561.0" width="19.1" height="14.0" fill="#33A02C"/>
<rect x="378.06" y="574.0" width="19.1" height="1.8" fill="#D9A0B0"/>
<rect x="378.06" y="574.8" width="19.1" height="30.0" fill="#3A6526"/>
<rect x="378.06" y="603.8" width="19.1" height="13.2" fill="#E59495"/>
<rect x="378.06" y="616.0" width="19.1" height="76.2" fill="#831A53"/>
<rect x="378.06" y="691.2" width="19.1" height="12.1" fill="#8BAECE"/>
<rect x="378.06" y="702.3" width="19.1" height="17.8" fill="#E31A1C"/>
<rect x="378.06" y="719.1" width="19.1" height="12.0" fill="#D9D9D9"/>
<rect x="378.06" y="730.1" width="19.1" height="18.4" fill="#A6CEE3"/>
</g>
<g>
<rect x="399.26" y="427.0" width="19.1" height="17.4" fill="#B15928"/>
<rect x="399.26" y="443.4" width="19.1" height="20.4" fill="#FFFF99"/>
<rect x="399.26" y="462.8" width="19.1" height="20.2" fill="#FF7F00"/>
<rect x="399.26" y="482.0" width="19.1" height="14.4" fill="#1F78B4"/>
<rect x="399.26" y="495.4" width="19.1" height="5.6" fill="#8DD3C7"/>
<rect x="399.26" y="500.0" width="19.1" height="13.8" fill="#FDBF6F"/>
<rect x="399.26" y="512.8" width="19.1" height="30.2" fill="#FB9A99"/>
<rect x="399.26" y="542.0" width="19.1" height="6.3" fill="#DDF0BB"/>
<rect x="399.26" y="547.3" width="19.1" height="6.5" fill="#662D91"/>
<rect x="399.26" y="552.8" width="19.1" height="12.2" fill="#C6AFD0"/>
<rect x="399.26" y="564.0" width="19.1" height="13.8" fill="#33A02C"/>
<rect x="399.26" y="576.8" width="19.1" height="2.4" fill="#D9A0B0"/>
<rect x="399.26" y="578.2" width="19.1" height="28.8" fill="#3A6526"/>
<rect x="399.26" y="606.0" width="19.1" height="13.8" fill="#E59495"/>
<rect x="399.26" y="618.8" width="19.1" height="76.0" fill="#831A53"/>
<rect x="399.26" y="693.8" width="19.1" height="12.0" fill="#8BAECE"/>
<rect x="399.26" y="704.8" width="19.1" height="18.1" fill="#E31A1C"/>
<rect x="399.26" y="721.9" width="19.1" height="8.9" fill="#8AAEC8"/>
<rect x="399.26" y="729.8" width="19.1" height="18.7" fill="#A6CEE3"/>
</g>
<g>
<rect x="420.46" y="427.0" width="19.1" height="17.6" fill="#B15928"/>
<rect x="420.46" y="443.6" width="19.1" height="20.9" fill="#FFFF99"/>
<rect x="420.46" y="463.5" width="19.1" height="12.2" fill="#FF7F00"/>
<rect x="420.46" y="474.7" width="19.1" height="16.3" fill="#1F78B4"/>
<rect x="420.46" y="490.0" width="19.1" height="6.1" fill="#8DD3C7"/>
<rect x="420.46" y="495.1" width="19.1" height="13.8" fill="#FDBF6F"/>
<rect x="420.46" y="507.9" width="19.1" height="30.9" fill="#FB9A99"/>
<rect x="420.46" y="537.8" width="19.1" height="6.3" fill="#DDF0BB"/>
<rect x="420.46" y="543.1" width="19.1" height="1.5" fill="#662D91"/>
<rect x="420.46" y="543.6" width="19.1" height="15.1" fill="#C6AFD0"/>
<rect x="420.46" y="557.7" width="19.1" height="13.8" fill="#33A02C"/>
<rect x="420.46" y="570.5" width="19.1" height="2.4" fill="#8E8F7A"/>
<rect x="420.46" y="571.9" width="19.1" height="28.8" fill="#3A6526"/>
<rect x="420.46" y="599.7" width="19.1" height="13.8" fill="#E59495"/>
<rect x="420.46" y="612.5" width="19.1" height="78.7" fill="#831A53"/>
<rect x="420.46" y="690.2" width="19.1" height="12.8" fill="#8BAECE"/>
<rect x="420.46" y="702.0" width="19.1" height="18.4" fill="#E31A1C"/>
<rect x="420.46" y="719.4" width="19.1" height="11.4" fill="#8AAEC8"/>
<rect x="420.46" y="729.8" width="19.1" height="18.7" fill="#A6CEE3"/>
</g>
<g>
<rect x="441.66" y="427.0" width="19.1" height="18.1" fill="#B15928"/>
<rect x="441.66" y="444.1" width="19.1" height="22.4" fill="#FFFF99"/>
<rect x="441.66" y="465.5" width="19.1" height="8.6" fill="#FF7F00"/>
<rect x="441.66" y="473.1" width="19.1" height="15.4" fill="#1F78B4"/>
<rect x="441.66" y="487.5" width="19.1" height="5.8" fill="#8DD3C7"/>
<rect x="441.66" y="492.3" width="19.1" height="14.2" fill="#FDBF6F"/>
<rect x="441.66" y="505.5" width="19.1" height="31.5" fill="#FB9A99"/>
<rect x="441.66" y="536.0" width="19.1" height="6.0" fill="#DDF0BB"/>
<rect x="441.66" y="541.0" width="19.1" height="14.8" fill="#C6AFD0"/>
<rect x="441.66" y="554.8" width="19.1" height="13.2" fill="#33A02C"/>
<rect x="441.66" y="567.0" width="19.1" height="2.7" fill="#8E8F7A"/>
<rect x="441.66" y="568.7" width="19.1" height="27.1" fill="#3A6526"/>
<rect x="441.66" y="594.8" width="19.1" height="14.0" fill="#E59495"/>
<rect x="441.66" y="607.8" width="19.1" height="82.4" fill="#831A53"/>
<rect x="441.66" y="689.2" width="19.1" height="12.8" fill="#8BAECE"/>
<rect x="441.66" y="701.0" width="19.1" height="20.1" fill="#E31A1C"/>
<rect x="441.66" y="720.1" width="19.1" height="10.7" fill="#8AAEC8"/>
<rect x="441.66" y="729.8" width="19.1" height="18.7" fill="#A6CEE3"/>
</g>
<g>
<rect x="462.86" y="427.0" width="19.1" height="18.6" fill="#B15928"/>
<rect x="462.86" y="444.6" width="19.1" height="23.4" fill="#FFFF99"/>
<rect x="462.86" y="467.0" width="19.1" height="8.2" fill="#FF7F00"/>
<rect x="462.86" y="474.2" width="19.1" height="13.8" fill="#1F78B4"/>
<rect x="462.86" y="487.0" width="19.1" height="6.0" fill="#8DD3C7"/>
<rect x="462.86" y="492.0" width="19.1" height="14.0" fill="#FDBF6F"/>
<rect x="462.86" y="505.0" width="19.1" height="32.4" fill="#FB9A99"/>
<rect x="462.86" y="536.4" width="19.1" height="6.6" fill="#DDF0BB"/>
<rect x="462.86" y="542.0" width="19.1" height="12.1" fill="#C6AFD0"/>
<rect x="462.86" y="553.1" width="19.1" height="12.1" fill="#33A02C"/>
<rect x="462.86" y="564.2" width="19.1" height="2.7" fill="#8E8F7A"/>
<rect x="462.86" y="565.9" width="19.1" height="25.8" fill="#3A6526"/>
<rect x="462.86" y="590.7" width="19.1" height="13.1" fill="#E59495"/>
<rect x="462.86" y="602.8" width="19.1" height="86.4" fill="#831A53"/>
<rect x="462.86" y="688.2" width="19.1" height="12.7" fill="#8BAECE"/>
<rect x="462.86" y="699.9" width="19.1" height="22.0" fill="#E31A1C"/>
<rect x="462.86" y="720.9" width="19.1" height="9.9" fill="#8AAEC8"/>
<rect x="462.86" y="729.8" width="19.1" height="18.7" fill="#A6CEE3"/>
</g>
<g>
<rect x="484.06" y="427.0" width="19.1" height="19.4" fill="#B15928"/>
<rect x="484.06" y="445.4" width="19.1" height="25.0" fill="#FFFF99"/>
<rect x="484.06" y="469.4" width="19.1" height="10.3" fill="#FF7F00"/>
<rect x="484.06" y="478.7" width="19.1" height="11.1" fill="#1F78B4"/>
<rect x="484.06" y="488.8" width="19.1" height="6.7" fill="#8DD3C7"/>
<rect x="484.06" y="494.5" width="19.1" height="12.7" fill="#FDBF6F"/>
<rect x="484.06" y="506.2" width="19.1" height="32.6" fill="#FB9A99"/>
<rect x="484.06" y="537.8" width="19.1" height="7.0" fill="#DDF0BB"/>
<rect x="484.06" y="543.8" width="19.1" height="7.5" fill="#C6AFD0"/>
<rect x="484.06" y="550.3" width="19.1" height="13.6" fill="#33A02C"/>
<rect x="484.06" y="562.9" width="19.1" height="25.0" fill="#3A6526"/>
<rect x="484.06" y="586.9" width="19.1" height="11.0" fill="#E59495"/>
<rect x="484.06" y="596.9" width="19.1" height="90.5" fill="#831A53"/>
<rect x="484.06" y="686.4" width="19.1" height="11.5" fill="#8BAECE"/>
<rect x="484.06" y="696.9" width="19.1" height="27.8" fill="#E31A1C"/>
<rect x="484.06" y="723.7" width="19.1" height="7.8" fill="#8AAEC8"/>
<rect x="484.06" y="730.5" width="19.1" height="18.0" fill="#A6CEE3"/>
</g>
<g>
<rect x="505.26" y="427.0" width="19.1" height="17.0" fill="#B15928"/>
<rect x="505.26" y="443.0" width="19.1" height="30.2" fill="#FFFF99"/>
<rect x="505.26" y="472.2" width="19.1" height="20.7" fill="#FF7F00"/>
<rect x="505.26" y="491.9" width="19.1" height="7.0" fill="#1F78B4"/>
<rect x="505.26" y="497.9" width="19.1" height="13.5" fill="#8DD3C7"/>
<rect x="505.26" y="510.4" width="19.1" height="7.5" fill="#FDBF6F"/>
<rect x="505.26" y="516.9" width="19.1" height="42.8" fill="#FB9A99"/>
<rect x="505.26" y="558.7" width="19.1" height="5.2" fill="#DDF0BB"/>
<rect x="505.26" y="562.9" width="19.1" height="2.1" fill="#C6AFD0"/>
<rect x="505.26" y="564.0" width="19.1" height="22.1" fill="#33A02C"/>
<rect x="505.26" y="585.1" width="19.1" height="4.9" fill="#E59495"/>
<rect x="505.26" y="589.0" width="19.1" height="102.9" fill="#831A53"/>
<rect x="505.26" y="690.9" width="19.1" height="11.8" fill="#8BAECE"/>
<rect x="505.26" y="701.7" width="19.1" height="37.2" fill="#E31A1C"/>
<rect x="505.26" y="737.9" width="19.1" height="10.6" fill="#A6CEE3"/>
</g>
<rect x="375.31" y="411.2" width="152.43" height="353.2" fill="none" stroke="#2b2b2b" stroke-width="1.15"/>
<text class="t x" x="387.3" y="774.0">True</text>
<text class="t x" x="408.5" y="774.0">0</text>
<text class="t x" x="429.7" y="774.0">0.2</text>
<text class="t x" x="450.9" y="774.0">0.4</text>
<text class="t x" x="472.1" y="774.0">0.6</text>
<text class="t x" x="493.3" y="774.0">0.8</text>
<text class="t x" x="514.5" y="774.0">1</text>
<rect x="532.45" y="393.0" width="152.43" height="18.2" fill="#CCCCCC" stroke="#2b2b2b" stroke-width="1.15"/>
<text class="s" x="608.7" y="406.5">GTDB r202</text>
<g>
<rect x="535.20" y="427.0" width="19.1" height="17.4" fill="#B15928"/>
<rect x="535.20" y="443.4" width="19.1" height="19.7" fill="#FFFF99"/>
<rect x="535.20" y="462.1" width="19.1" height="23.2" fill="#FF7F00"/>
<rect x="535.20" y="484.3" width="19.1" height="14.6" fill="#1F78B4"/>
<rect x="535.20" y="497.9" width="19.1" height="5.2" fill="#8DD3C7"/>
<rect x="535.20" y="502.1" width="19.1" height="13.9" fill="#FDBF6F"/>
<rect x="535.20" y="515.0" width="19.1" height="29.9" fill="#FB9A99"/>
<rect x="535.20" y="543.9" width="19.1" height="6.5" fill="#DDF0BB"/>
<rect x="535.20" y="549.4" width="19.1" height="12.6" fill="#F5F9B5"/>
<rect x="535.20" y="561.0" width="19.1" height="14.0" fill="#33A02C"/>
<rect x="535.20" y="574.0" width="19.1" height="1.8" fill="#D9A0B0"/>
<rect x="535.20" y="574.8" width="19.1" height="30.0" fill="#3A6526"/>
<rect x="535.20" y="603.8" width="19.1" height="13.2" fill="#E59495"/>
<rect x="535.20" y="616.0" width="19.1" height="76.2" fill="#831A53"/>
<rect x="535.20" y="691.2" width="19.1" height="12.1" fill="#8BAECE"/>
<rect x="535.20" y="702.3" width="19.1" height="17.8" fill="#E31A1C"/>
<rect x="535.20" y="719.1" width="19.1" height="12.0" fill="#D9D9D9"/>
<rect x="535.20" y="730.1" width="19.1" height="18.4" fill="#A6CEE3"/>
</g>
<g>
<rect x="556.40" y="427.0" width="19.1" height="18.6" fill="#B15928"/>
<rect x="556.40" y="444.6" width="19.1" height="18.1" fill="#FFFF99"/>
<rect x="556.40" y="461.7" width="19.1" height="19.4" fill="#FF7F00"/>
<rect x="556.40" y="480.1" width="19.1" height="14.8" fill="#1F78B4"/>
<rect x="556.40" y="493.9" width="19.1" height="4.6" fill="#8DD3C7"/>
<rect x="556.40" y="497.5" width="19.1" height="13.6" fill="#9EDAC2"/>
<rect x="556.40" y="510.1" width="19.1" height="13.4" fill="#B4E3BF"/>
<rect x="556.40" y="522.5" width="19.1" height="5.5" fill="#C8EAB5"/>
<rect x="556.40" y="527.0" width="19.1" height="6.9" fill="#DDF0BB"/>
<rect x="556.40" y="532.9" width="19.1" height="29.3" fill="#662D91"/>
<rect x="556.40" y="561.2" width="19.1" height="12.7" fill="#F5F9B5"/>
<rect x="556.40" y="572.9" width="19.1" height="13.9" fill="#33A02C"/>
<rect x="556.40" y="585.8" width="19.1" height="28.1" fill="#3A6526"/>
<rect x="556.40" y="612.9" width="19.1" height="12.4" fill="#FAFAB4"/>
<rect x="556.40" y="624.3" width="19.1" height="81.9" fill="#831A53"/>
<rect x="556.40" y="705.2" width="19.1" height="18.7" fill="#E31A1C"/>
<rect x="556.40" y="722.9" width="19.1" height="5.1" fill="#F0EFB4"/>
<rect x="556.40" y="727.0" width="19.1" height="3.8" fill="#E3DDB5"/>
<rect x="556.40" y="729.8" width="19.1" height="18.7" fill="#A6CEE3"/>
</g>
<g>
<rect x="577.60" y="427.0" width="19.1" height="20.0" fill="#B15928"/>
<rect x="577.60" y="446.0" width="19.1" height="19.8" fill="#FFFF99"/>
<rect x="577.60" y="464.8" width="19.1" height="14.2" fill="#FF7F00"/>
<rect x="577.60" y="478.0" width="19.1" height="8.8" fill="#E3C062"/>
<rect x="577.60" y="485.8" width="19.1" height="18.2" fill="#1F78B4"/>
<rect x="577.60" y="503.0" width="19.1" height="4.9" fill="#8DD3C7"/>
<rect x="577.60" y="506.9" width="19.1" height="12.8" fill="#9EDAC2"/>
<rect x="577.60" y="518.7" width="19.1" height="5.2" fill="#B4E3BF"/>
<rect x="577.60" y="522.9" width="19.1" height="6.8" fill="#DDF0BB"/>
<rect x="577.60" y="528.7" width="19.1" height="15.7" fill="#662D91"/>
<rect x="577.60" y="543.4" width="19.1" height="10.7" fill="#F5F9B5"/>
<rect x="577.60" y="553.1" width="19.1" height="2.7" fill="#D9C766"/>
<rect x="577.60" y="554.8" width="19.1" height="15.3" fill="#33A02C"/>
<rect x="577.60" y="569.1" width="19.1" height="31.6" fill="#3A6526"/>
<rect x="577.60" y="599.7" width="19.1" height="13.5" fill="#FAFAB4"/>
<rect x="577.60" y="612.2" width="19.1" height="91.6" fill="#831A53"/>
<rect x="577.60" y="702.8" width="19.1" height="20.4" fill="#E31A1C"/>
<rect x="577.60" y="722.2" width="19.1" height="2.8" fill="#F0EFB4"/>
<rect x="577.60" y="724.0" width="19.1" height="8.2" fill="#C8CF68"/>
<rect x="577.60" y="731.2" width="19.1" height="17.3" fill="#A6CEE3"/>
</g>
<g>
<rect x="598.80" y="427.0" width="19.1" height="21.8" fill="#B15928"/>
<rect x="598.80" y="447.8" width="19.1" height="21.2" fill="#FFFF99"/>
<rect x="598.80" y="468.0" width="19.1" height="7.0" fill="#FF7F00"/>
<rect x="598.80" y="474.0" width="19.1" height="14.0" fill="#E3C062"/>
<rect x="598.80" y="487.0" width="19.1" height="23.0" fill="#1F78B4"/>
<rect x="598.80" y="509.0" width="19.1" height="5.9" fill="#8DD3C7"/>
<rect x="598.80" y="513.9" width="19.1" height="11.4" fill="#9EDAC2"/>
<rect x="598.80" y="524.3" width="19.1" height="7.8" fill="#DDF0BB"/>
<rect x="598.80" y="531.1" width="19.1" height="6.9" fill="#662D91"/>
<rect x="598.80" y="537.0" width="19.1" height="6.3" fill="#F5F9B5"/>
<rect x="598.80" y="542.3" width="19.1" height="8.5" fill="#D9C766"/>
<rect x="598.80" y="549.8" width="19.1" height="16.1" fill="#33A02C"/>
<rect x="598.80" y="564.9" width="19.1" height="34.8" fill="#3A6526"/>
<rect x="598.80" y="598.7" width="19.1" height="13.5" fill="#FAFAB4"/>
<rect x="598.80" y="611.2" width="19.1" height="97.8" fill="#831A53"/>
<rect x="598.80" y="708.0" width="19.1" height="20.2" fill="#E31A1C"/>
<rect x="598.80" y="727.2" width="19.1" height="8.9" fill="#F9CFDC"/>
<rect x="598.80" y="735.1" width="19.1" height="13.4" fill="#A6CEE3"/>
</g>
<g>
<rect x="620.00" y="427.0" width="19.1" height="23.9" fill="#B15928"/>
<rect x="620.00" y="449.9" width="19.1" height="20.9" fill="#FFFF99"/>
<rect x="620.00" y="469.8" width="19.1" height="3.1" fill="#FF7F00"/>
<rect x="620.00" y="471.9" width="19.1" height="12.8" fill="#E3C062"/>
<rect x="620.00" y="483.7" width="19.1" height="29.1" fill="#1F78B4"/>
<rect x="620.00" y="511.8" width="19.1" height="6.2" fill="#8DD3C7"/>
<rect x="620.00" y="517.0" width="19.1" height="7.6" fill="#9EDAC2"/>
<rect x="620.00" y="523.6" width="19.1" height="8.0" fill="#DDF0BB"/>
<rect x="620.00" y="530.6" width="19.1" height="2.4" fill="#662D91"/>
<rect x="620.00" y="532.0" width="19.1" height="2.9" fill="#F5F9B5"/>
<rect x="620.00" y="533.9" width="19.1" height="9.8" fill="#D9C766"/>
<rect x="620.00" y="542.7" width="19.1" height="16.5" fill="#33A02C"/>
<rect x="620.00" y="558.2" width="19.1" height="2.0" fill="#8E8F7A"/>
<rect x="620.00" y="559.2" width="19.1" height="36.2" fill="#3A6526"/>
<rect x="620.00" y="594.4" width="19.1" height="11.8" fill="#FAFAB4"/>
<rect x="620.00" y="605.2" width="19.1" height="105.4" fill="#831A53"/>
<rect x="620.00" y="709.6" width="19.1" height="19.3" fill="#E31A1C"/>
<rect x="620.00" y="727.9" width="19.1" height="14.5" fill="#E9D2C6"/>
<rect x="620.00" y="741.4" width="19.1" height="7.1" fill="#A6CEE3"/>
</g>
<g>
<rect x="641.20" y="427.0" width="19.1" height="29.9" fill="#B15928"/>
<rect x="641.20" y="455.9" width="19.1" height="20.0" fill="#FFFF99"/>
<rect x="641.20" y="474.9" width="19.1" height="8.6" fill="#E3C062"/>
<rect x="641.20" y="482.5" width="19.1" height="31.4" fill="#1F78B4"/>
<rect x="641.20" y="512.9" width="19.1" height="6.7" fill="#8DD3C7"/>
<rect x="641.20" y="518.6" width="19.1" height="3.8" fill="#9EDAC2"/>
<rect x="641.20" y="521.4" width="19.1" height="8.4" fill="#DDF0BB"/>
<rect x="641.20" y="528.8" width="19.1" height="2.4" fill="#C6AFD0"/>
<rect x="641.20" y="530.2" width="19.1" height="6.9" fill="#D9C766"/>
<rect x="641.20" y="536.1" width="19.1" height="18.0" fill="#33A02C"/>
<rect x="641.20" y="553.1" width="19.1" height="2.1" fill="#8E8F7A"/>
<rect x="641.20" y="554.2" width="19.1" height="39.8" fill="#3A6526"/>
<rect x="641.20" y="593.0" width="19.1" height="9.1" fill="#FAFAB4"/>
<rect x="641.20" y="601.1" width="19.1" height="131.1" fill="#831A53"/>
<rect x="641.20" y="731.2" width="19.1" height="15.6" fill="#E31A1C"/>
<rect x="641.20" y="745.8" width="19.1" height="2.7" fill="#A6CEE3"/>
</g>
<g>
<rect x="662.40" y="427.0" width="19.1" height="28.8" fill="#B15928"/>
<rect x="662.40" y="454.8" width="19.1" height="9.7" fill="#FFFF99"/>
<rect x="662.40" y="463.5" width="19.1" height="14.5" fill="#1F78B4"/>
<rect x="662.40" y="477.0" width="19.1" height="6.9" fill="#8DD3C7"/>
<rect x="662.40" y="482.9" width="19.1" height="5.1" fill="#DDF0BB"/>
<rect x="662.40" y="487.0" width="19.1" height="15.0" fill="#33A02C"/>
<rect x="662.40" y="501.0" width="19.1" height="2.0" fill="#8E8F7A"/>
<rect x="662.40" y="502.0" width="19.1" height="49.0" fill="#3A6526"/>
<rect x="662.40" y="550.0" width="19.1" height="5.2" fill="#FAFAB4"/>
<rect x="662.40" y="554.2" width="19.1" height="188.9" fill="#831A53"/>
<rect x="662.40" y="742.1" width="19.1" height="5.9" fill="#E31A1C"/>
</g>
<rect x="532.45" y="411.2" width="152.43" height="353.2" fill="none" stroke="#2b2b2b" stroke-width="1.15"/>
<text class="t x" x="544.5" y="774.0">True</text>
<text class="t x" x="565.7" y="774.0">0</text>
<text class="t x" x="586.9" y="774.0">0.2</text>
<text class="t x" x="608.1" y="774.0">0.4</text>
<text class="t x" x="629.2" y="774.0">0.6</text>
<text class="t x" x="650.5" y="774.0">0.8</text>
<text class="t x" x="671.7" y="774.0">1</text>
<text class="t y" x="29.2" y="748.5">0.0</text>
<text class="t y" x="29.2" y="716.4">0.1</text>
<text class="t y" x="29.2" y="684.2">0.2</text>
<text class="t y" x="29.2" y="652.0">0.3</text>
<text class="t y" x="29.2" y="619.9">0.4</text>
<text class="t y" x="29.2" y="587.8">0.5</text>
<text class="t y" x="29.2" y="555.6">0.6</text>
<text class="t y" x="29.2" y="523.5">0.7</text>
<text class="t y" x="29.2" y="491.3">0.8</text>
<text class="t y" x="29.2" y="459.1">0.9</text>
<text class="t y" x="29.2" y="427.0">1.0</text>
<rect x="30.59" y="0" width="654.41" height="0.9" fill="#000"/>
<rect x="120.47" y="0" width="3.61" height="1" fill="#fff"/>
<rect x="214.01" y="0" width="3.61" height="1" fill="#fff"/>
<rect x="371.15" y="0" width="3.61" height="1" fill="#fff"/>
<rect x="528.29" y="0" width="3.61" height="1" fill="#fff"/>
<text class="l" x="19" y="14">A</text>
<text class="l" x="19.3" y="406.4">B</text>
<text class="ti" transform="translate(11,190.8) rotate(-90)">The relative abundance</text>
<text class="ti" transform="translate(11,583.6) rotate(-90)">The relative abundance</text>
<text class="ti" x="362" y="790.3">Confidence score</text>
</svg>
</body></html>
